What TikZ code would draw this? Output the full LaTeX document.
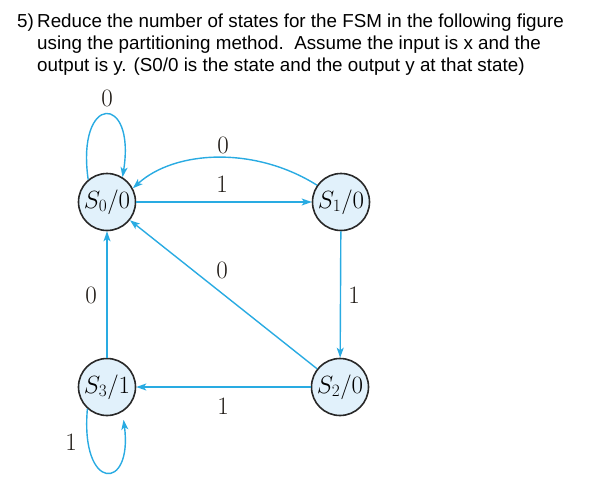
\documentclass[tikz,border=0pt]{standalone}
\usepackage{fontspec}
\newfontfamily\titlefont{Liberation Sans}
\usetikzlibrary{arrows.meta}
\definecolor{fsmblue}{RGB}{41,171,226}
\definecolor{fsmfill}{RGB}{225,241,251}
\definecolor{fsmborder}{RGB}{40,40,40}
\definecolor{lblcol}{RGB}{30,25,20}
\begin{document}
\begin{tikzpicture}[x=1pt,y=-1pt,
  state/.style={circle, draw=fsmborder, fill=fsmfill, line width=1.6pt,
    minimum size=57pt, inner sep=0pt, font=\fontsize{24}{26}\selectfont},
  trans/.style={draw=fsmblue, line width=1.4pt,
    -{Stealth[length=10pt,width=7pt,inset=2.5pt]}},
  lbl/.style={font=\fontsize{25}{27}\selectfont, text=lblcol, inner sep=0pt},
  title/.style={font=\titlefont\fontsize{18.8}{22}\selectfont, anchor=base west, inner sep=0pt}]
\useasboundingbox (0,0) rectangle (598,491);
\node[title] (t0) at (17,27.5) {5)};
\node[title] (t1) at (37,27.5) {Reduce the number of states for the FSM in the following figure};
\node[title] (t2) at (37,49.5) {using the partitioning method.\ \ Assume the input is x and the};
\node[title] (t3) at (37,71.5) {output is y. (S0/0 is the state and the output y at that state)};

\node[state] (s0) at (107,202) {$S_0/0$};
\node[state] (s1) at (341,202) {$S_1/0$};
\node[state] (s2) at (340,387) {$S_2/0$};
\node[state] (s3) at (107,387) {$S_3/1$};

\draw[trans] (s0.130) .. controls (76,93) and (136,93) .. (s0.58);
\draw[trans] (s1.145) .. controls (255,146) and (175,150) .. (s0.28);
\draw[trans] (s0) -- (s1);
\draw[trans] (s1) -- (s2);
\draw[trans] (s2) -- (s0);
\draw[trans] (s3) -- (s0);
\draw[trans] (s2) -- (s3);
\draw[trans, shorten >=8pt] (s3.228) .. controls (80,492) and (133,492) .. (s3.-58);

\node[lbl] (l1) at (107,98) {0};
\node[lbl] (l2) at (223,145) {0};
\node[lbl] (l3) at (222,184) {1};
\node[lbl] (l4) at (222,270) {0};
\node[lbl] (l5) at (91,295) {0};
\node[lbl] (l6) at (354,295) {1};
\node[lbl] (l7) at (223,406) {1};
\node[lbl] (l8) at (71,442) {1};
\end{tikzpicture}
\end{document}
